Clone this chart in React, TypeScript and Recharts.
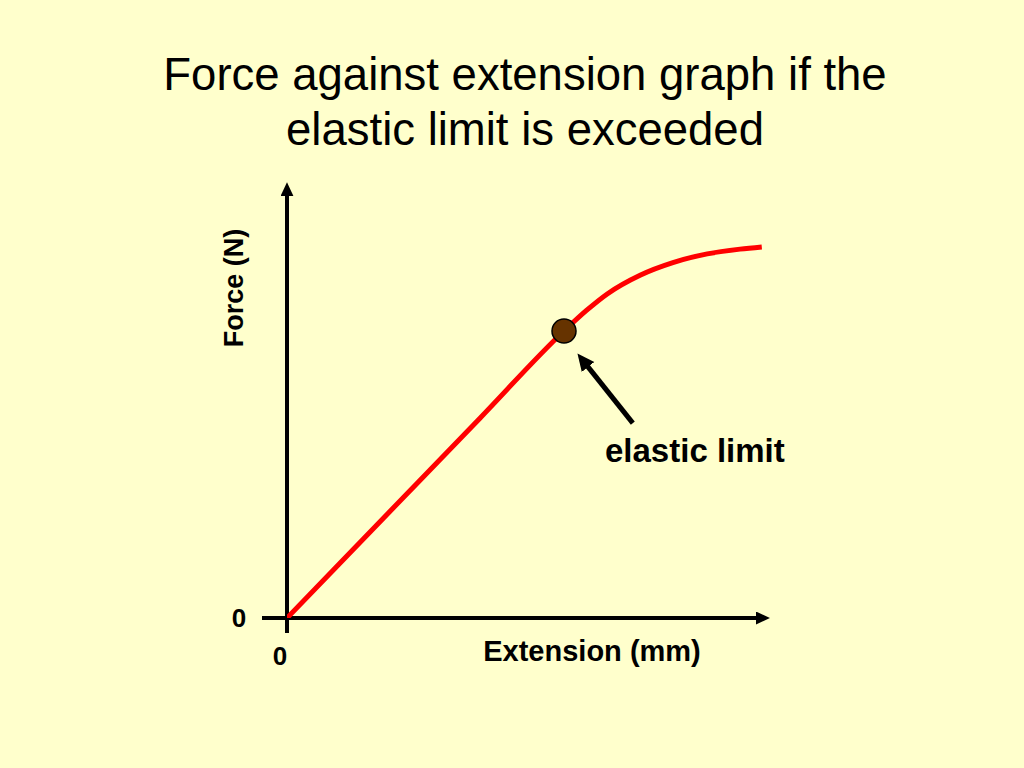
import React from 'react';
import { ComposedChart, Line, XAxis, YAxis, Scatter, ReferenceLine } from 'recharts';

// Data (extension in mm, force in N; arbitrary units)
const extensionMm = [0, 2, 4, 5.735, 6.2, 6.63, 7.31, 7.99, 8.7, 9.38, 9.83];
const forceN = [0, 2.3, 4.6, 6.598, 7.07, 7.45, 7.88, 8.17, 8.37, 8.48, 8.53];
const elasticLimitX = [5.735];
const elasticLimitY = [6.598];
const xTicks = [0];
const yTicks = [0];
const xAxisEnd = [9.73];
const yAxisEnd = [9.72];
const arrowTail = [7.16, 4.48];
const arrowHead = [6.22, 5.79];
const titleLines = ['Force against extension graph if the', 'elastic limit is exceeded'];
const xLabel = 'Extension (mm)';
const yLabel = 'Force (N)';
const annotation = 'elastic limit';

const curve = extensionMm.map((x, i) => ({ x, y: forceN[i] }));
const limitPoint = elasticLimitX.map((x, i) => ({ x, y: elasticLimitY[i] }));

const FONT = '"Liberation Sans", Arial, Helvetica, sans-serif';

const axisArrowShape = (p: any) => (
  <line x1={p.x1} y1={p.y1} x2={p.x2} y2={p.y2} stroke="#000" strokeWidth={4} markerEnd="url(#axisHeadMk)" />
);

const pointerArrowShape = (p: any) => (
  <line x1={p.x1} y1={p.y1} x2={p.x2} y2={p.y2} stroke="#000" strokeWidth={5} markerEnd="url(#pointerHeadMk)" />
);

const XTick = (p: any) => (
  <text x={p.x - 7} y={p.y + 30} textAnchor="middle" fontFamily={FONT} fontWeight="bold" fontSize={26} fill="#000">
    {p.payload.value}
  </text>
);

const YTick = (p: any) => (
  <text x={p.x - 21} y={p.y + 9} textAnchor="middle" fontFamily={FONT} fontWeight="bold" fontSize={26} fill="#000">
    {p.payload.value}
  </text>
);

export default function App() {
  return (
    <div style={{ position: 'absolute', left: 0, top: 0, width: 1024, height: 768, background: '#FFFFCC', overflow: 'hidden' }}>
      <svg width={1024} height={768} style={{ position: 'absolute', left: 0, top: 0 }}>
        <defs>
          <marker id="axisHeadMk" markerUnits="userSpaceOnUse" markerWidth={16} markerHeight={14} refX={1} refY={6.5} orient="auto">
            <path d="M0,0 L14,6.5 L0,13 z" fill="#000" />
          </marker>
          <marker id="pointerHeadMk" markerUnits="userSpaceOnUse" markerWidth={19} markerHeight={18} refX={1} refY={8} orient="auto">
            <path d="M0,0 L17,8 L0,16 z" fill="#000" />
          </marker>
        </defs>
        {titleLines.map((t, i) => (
          <text key={i} x={525} y={90 + i * 55} textAnchor="middle" fontFamily={FONT} fontSize={45.5} fill="#000">
            {t}
          </text>
        ))}
        <text x={605} y={462} fontFamily={FONT} fontWeight="bold" fontSize={33} fill="#000">
          {annotation}
        </text>
        <text x={592} y={651} textAnchor="middle" dominantBaseline="central" fontFamily={FONT} fontWeight="bold" fontSize={29} fill="#000">
          {xLabel}
        </text>
        <text x={234} y={288} textAnchor="middle" dominantBaseline="central" transform="rotate(-90, 234, 288)" fontFamily={FONT} fontWeight="bold" fontSize={27} fill="#000">
          {yLabel}
        </text>
      </svg>
      <div style={{ position: 'absolute', left: 0, top: 0 }}>
        <ComposedChart width={1024} height={768} margin={{ top: 183, right: 254, bottom: 70, left: 207 }}>
          <XAxis
            type="number"
            dataKey="x"
            domain={[0, 10]}
            ticks={xTicks}
            height={80}
            axisLine={false}
            tickLine={{ stroke: '#000', strokeWidth: 4 }}
            tickSize={15}
            tick={XTick}
            allowDataOverflow
          />
          <YAxis
            type="number"
            dataKey="y"
            domain={[0, 10]}
            ticks={yTicks}
            width={80}
            axisLine={false}
            tickLine={{ stroke: '#000', strokeWidth: 4 }}
            tickSize={25}
            tick={YTick}
            allowDataOverflow
          />
          <ReferenceLine segment={[{ x: 0, y: 0 }, { x: xAxisEnd[0], y: 0 }]} ifOverflow="visible" shape={axisArrowShape} />
          <ReferenceLine segment={[{ x: 0, y: 0 }, { x: 0, y: yAxisEnd[0] }]} ifOverflow="visible" shape={axisArrowShape} />
          <ReferenceLine
            segment={[{ x: arrowTail[0], y: arrowTail[1] }, { x: arrowHead[0], y: arrowHead[1] }]}
            ifOverflow="visible"
            shape={pointerArrowShape}
          />
          <Line data={curve} dataKey="y" type="monotone" stroke="#FF0000" strokeWidth={5} dot={false} isAnimationActive={false} />
          <Scatter
            data={limitPoint}
            dataKey="y"
            isAnimationActive={false}
            shape={(p: any) => <circle cx={p.cx} cy={p.cy} r={12} fill="#663300" stroke="#000" strokeWidth={1.5} />}
          />
        </ComposedChart>
      </div>
    </div>
  );
}
